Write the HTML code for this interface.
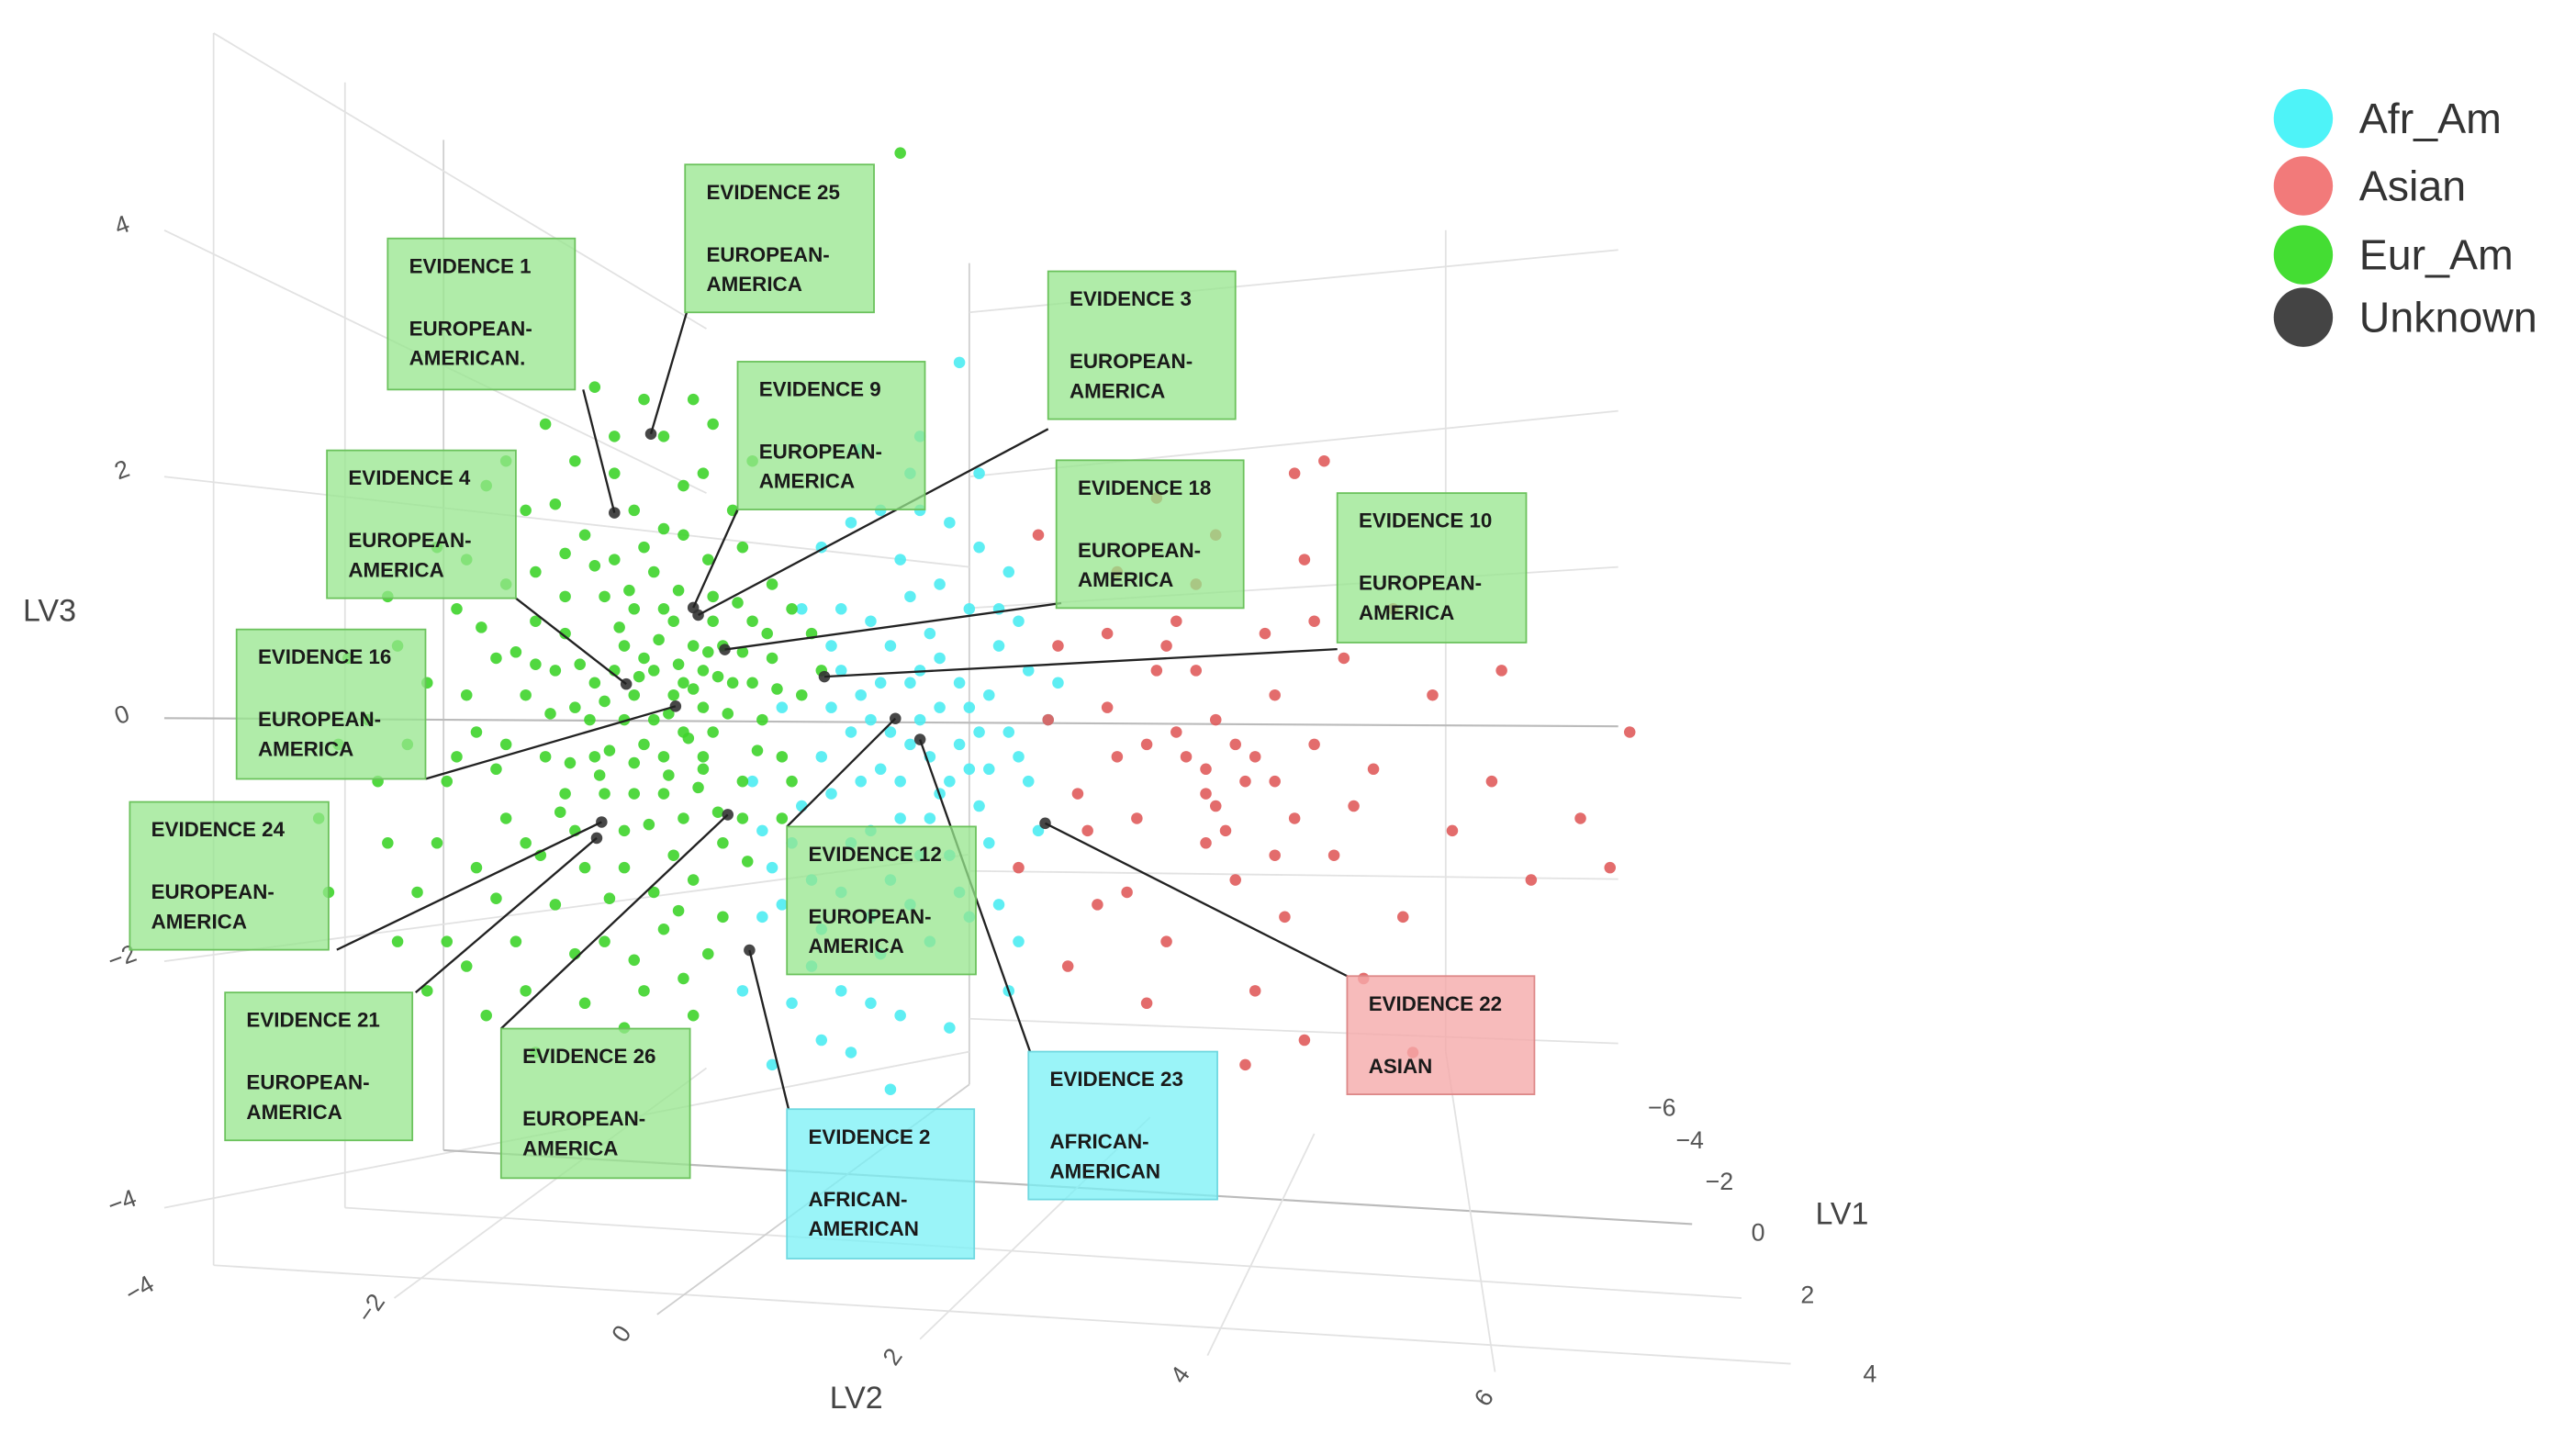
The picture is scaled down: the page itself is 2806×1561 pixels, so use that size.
<!DOCTYPE html>
<html><head><meta charset="utf-8">
<style>
html,body{margin:0;padding:0;background:#fff;}
svg{display:block;}
text{font-family:"Liberation Sans",sans-serif;}
.bt{font-size:12.5px;font-weight:bold;fill:#1a1a1a;}
.tk{font-size:15px;fill:#555;}
.gl{stroke:#e2e2e2;stroke-width:1;fill:none;}
</style></head>
<body>
<svg id="chart" width="2806" height="1561" viewBox="0 0 1568 872" xmlns="http://www.w3.org/2000/svg">
<g id="grid">
<line class="gl" x1="130" y1="20" x2="130" y2="770"/>
<line class="gl" x1="210" y1="50" x2="210" y2="735"/>
<line class="gl" x1="270" y1="85" x2="270" y2="700" style="stroke:#cfcfcf"/>
<line class="gl" x1="590" y1="160" x2="590" y2="660" style="stroke:#cfcfcf"/>
<line class="gl" x1="880" y1="140" x2="880" y2="640"/>
<line class="gl" x1="100" y1="140" x2="430" y2="300"/>
<line class="gl" x1="130" y1="20" x2="430" y2="200"/>
<line class="gl" x1="100" y1="290" x2="590" y2="345"/>
<line class="gl" x1="590" y1="190" x2="985" y2="152"/>
<line class="gl" x1="590" y1="290" x2="985" y2="250"/>
<line class="gl" x1="590" y1="370" x2="985" y2="345"/>
<line x1="100" y1="437" x2="985" y2="442" stroke="#bbb" stroke-width="1.2"/>
<line class="gl" x1="590" y1="530" x2="985" y2="535"/>
<line class="gl" x1="590" y1="620" x2="985" y2="635"/>
<line class="gl" x1="100" y1="585" x2="590" y2="520"/>
<line class="gl" x1="100" y1="735" x2="590" y2="640"/>
<line x1="270" y1="700" x2="1030" y2="745" stroke="#bbb" stroke-width="1.2"/>
<line class="gl" x1="130" y1="770" x2="1090" y2="830"/>
<line class="gl" x1="210" y1="735" x2="1060" y2="790"/>
<line class="gl" x1="400" y1="800" x2="590" y2="660" style="stroke:#cfcfcf"/>
<line class="gl" x1="560" y1="815" x2="700" y2="680"/>
<line class="gl" x1="735" y1="825" x2="800" y2="690"/>
<line class="gl" x1="910" y1="835" x2="880" y2="640"/>
<line class="gl" x1="240" y1="790" x2="430" y2="650"/>
</g>
<g id="ticks"></g>
<g id="points"></g>
<g id="leaders"></g>
<g id="boxes"></g>
<text x="14" y="378" font-size="19" fill="#444">LV3</text>
<text x="1105" y="745" font-size="19" fill="#444">LV1</text>
<text x="505" y="857" font-size="19" fill="#444">LV2</text>
<g id="legend"></g>
</svg>
<script>
const NS="http://www.w3.org/2000/svg";
const greenPts=[[-0.5,0.2],[-0.8,0.5],[-0.2,0.1],[-1.0,0.0],[-0.6,-0.3],[-0.3,0.6],[-1.3,0.3],[-0.9,-0.6],[0.1,0.3],[-0.4,-0.8],[-1.6,0.7],[-1.2,1.0],[-0.7,1.2],[-0.1,1.0],[0.3,0.8],[-2.0,0.2],[-1.8,-0.3],[-1.5,-0.9],[-1.0,-1.2],[-0.3,-1.3],[0.2,-0.5],[0.4,0.0],[-2.3,0.5],[-2.5,-0.1],[-2.2,-0.8],[-1.9,1.2],[-1.4,1.5],[-0.9,1.7],[-0.4,1.5],[0.2,1.4],[-2.7,0.9],[-3.0,0.3],[-2.8,-0.5],[-2.5,-1.2],[-1.7,-1.5],[-1.2,-1.8],[-0.6,-1.7],[0.0,-1.0],[-1.1,2.0],[-0.6,2.3],[-0.3,2.6],[-1.5,2.1],[-3.2,-0.2],[-3.4,-1.0],[-3.1,-1.4],[-2.9,1.4],[-2.0,1.7],[-2.4,1.9],[0.5,1.1],[0.6,-0.3],[-0.2,-0.3],[-0.7,0.0],[-1.1,0.4],[-0.5,0.8],[-0.9,0.9],[-1.3,-0.3],[-0.2,0.4],[-0.6,-0.6],[-1.5,0.1],[-0.1,-0.1],[0.0,0.6],[-0.8,-0.2],[-1.7,0.4],[-1.2,-0.6],[-0.4,-0.1],[-2.0,-1.0],[-2.6,0.2],[-3.6,0.0],[-3.8,0.5],[-2.1,-1.8],[-1.4,-2.3],[-0.8,-2.2],[-2.4,-2.4],[-1.9,-2.7],[-0.2,2.0],[0.3,2.1],[-1.8,2.4],[1.8,4.6],[-0.3,-2.4],[0.5,0.5],[0.8,0.2],[0.7,0.9],[1.0,0.4],[-4.1,-0.8],[-3.4,1.0],[-1.6,-0.6],[-1.0,-0.9],[-0.5,-1.1],[0.2,-0.8],[-2.8,-1.8],[-3.0,-2.2],[-1.1,1.3],[-1.6,1.0],[-2.2,1.1],[-0.4,0.3],[-0.9,0.2],[-0.1,0.8],[0.3,0.3],[-1.4,-1.2],[-0.7,-1.4],[-2.3,-0.4],[-1.9,0.8],
[-0.45,0.45],[-0.65,0.65],[-0.35,-0.15],[-0.85,0.35],[-1.05,0.75],[-0.15,0.55],[-0.55,-0.45],[-1.15,-0.25],[-0.75,-0.85],[-0.25,-0.55],[0.05,0.05],[-1.45,0.45],[-1.25,-0.45],[-0.95,1.05],[-0.45,1.05],[0.15,0.95],[-1.75,0.05],[-1.65,-0.75],[-0.05,-0.75],[0.35,-0.25],[-0.6,1.55],[-1.3,1.25],[-2.1,0.55],[-2.2,-0.2],[-1.85,-1.1],[-1.15,-1.45],[-0.45,-1.55],[0.25,-1.15],[0.55,0.25],[0.45,0.7],[-0.15,1.3],[-0.8,1.4],[-1.6,1.35],[-2.45,0.75],[-2.7,-0.3],[-2.3,-1.45],[-1.5,-1.9],[-0.9,-1.95],[-0.15,-1.9],[0.6,-0.8],[-0.55,0.05],[-0.9,-0.35],[-1.35,0.0],[-0.3,0.25],[-0.7,0.4],[-1.0,0.6],[-0.2,-0.4],[-1.55,-0.35],[-1.9,0.45],[-0.6,0.9],[-1.2,0.15],[-0.05,0.35],[0.2,0.55],[-2.6,1.3],[-3.3,0.6],[-3.5,-0.5],[-2.9,-1.0],[-1.1,2.3],[-0.4,1.9],[0.1,1.7],[-1.7,1.75],[-2.2,2.1],[-2.0,-2.2],[-1.0,-2.5],[-0.4,-2.1],[0.0,-1.6],[0.7,-0.5],[0.9,0.7],[-3.9,-0.2],[-4.0,-1.4],[-3.3,-1.8],[-2.6,-2.0],[-0.8,2.6],[-1.3,2.7],[-0.1,2.4]];
const cyanPts=[[2.0,0.0],[1.6,0.3],[2.4,-0.2],[1.8,-0.5],[2.2,0.5],[1.3,-0.1],[2.7,0.2],[1.5,-0.9],[2.0,-1.1],[2.6,-0.7],[1.1,0.6],[1.9,1.0],[2.5,0.9],[3.0,-0.3],[3.1,0.4],[1.2,-1.4],[0.7,-1.0],[0.4,-1.6],[0.9,-2.0],[1.5,-2.3],[2.1,-1.8],[2.8,-1.5],[1.0,1.4],[1.6,1.7],[2.3,1.6],[2.9,1.2],[0.3,-0.5],[0.6,0.1],[1.4,2.2],[2.0,2.3],[2.4,2.9],[1.0,-2.6],[0.5,-2.8],[1.7,-3.0],[1.3,-2.7],[3.2,-0.9],[2.9,-2.2],[0.2,-2.2],[1.7,0.6],[2.2,0.1],[1.9,-0.2],[2.5,-0.4],[1.4,0.2],[2.8,0.6],[1.1,-0.6],[2.3,-1.1],[1.8,1.3],[0.8,0.9],[3.3,0.0],[2.6,1.4],[0.9,-1.3],[1.5,-1.6],[2.1,-0.8],[1.2,0.9],[2.7,-1.0],[1.6,-0.4],[2.9,-0.1],[0.5,-1.2],[1.9,2.0],[3.0,-1.8],
[2.1,-0.3],[1.9,0.3],[2.3,-0.5],[2.5,0.1],[1.7,-0.1],[2.0,0.4],[2.2,-0.6],[1.8,-0.8],[2.4,0.3],[2.6,-0.1],[1.5,0.0],[1.4,-0.5],[2.7,-0.4],[2.1,0.7],[1.7,-1.3],[2.4,-1.4],[1.3,-1.0],[1.0,-0.3],[0.8,-0.7],[1.2,0.4],[1.5,0.8],[2.2,1.1],[2.8,0.9],[3.1,-0.5],[3.4,0.3],[1.9,-1.5],[1.6,-1.9],[2.5,-1.6],[1.0,-1.7],[0.6,-1.5],[2.0,1.7],[1.3,1.6],[2.6,2.0],[1.8,-2.4],[1.2,-2.2],[0.7,-2.3],[3.0,0.8],[2.3,-2.5],[0.4,-0.9],[1.1,0.1]];
const redPts=[[4.7,-0.3],[5.0,0.0],[4.4,0.4],[5.3,-0.5],[4.2,-0.8],[4.9,-1.0],[5.6,0.2],[3.9,0.1],[4.6,0.8],[5.8,-0.8],[4.1,-1.4],[5.2,-1.3],[6.0,-0.2],[3.6,-0.6],[4.8,1.1],[5.5,0.7],[6.3,0.5],[6.6,-0.4],[6.2,-1.1],[5.7,-1.6],[4.5,-1.8],[3.8,-1.5],[3.4,0.6],[4.0,1.2],[5.0,1.5],[5.9,1.3],[6.8,0.9],[7.2,0.2],[7.4,-0.9],[6.9,-1.6],[6.5,-2.1],[5.4,-2.2],[4.3,-2.3],[3.5,-2.0],[3.0,-1.2],[3.2,1.5],[4.4,1.8],[5.8,2.0],[6.1,2.1],[7.9,0.4],[8.7,-0.8],[9.2,-0.1],[9.0,-1.2],[5.9,-2.6],[5.3,-2.8],[7.0,-2.7],[4.9,-0.6],[5.1,-0.9],[4.6,-0.1],[5.4,-0.3],[4.8,0.4],[4.3,-0.2],[5.6,-1.1],[6.4,-0.7],[3.7,-0.9],[4.0,-0.3],[3.3,0.0],[7.8,-0.5],[8.2,-1.3],[6.0,0.8],[4.9,-0.4],[5.0,-0.7],[5.2,-0.2],[4.5,0.6],[3.9,0.7],[5.6,-0.5]];
const unknownNames=["1","25","9","3","4","18","10","16","24","12","21","26","2","23","22"];
const unknownPts=[[-1.1,1.68],[-0.73,2.32],[-0.3,0.91],[-0.25,0.85],[-0.98,0.29],[0.02,0.57],[1.03,0.35],[-0.48,0.11],[-1.23,-0.83],[1.75,0.01],[-1.28,-0.96],[0.05,-0.77],[0.27,-1.87],[2.0,-0.16],[3.27,-0.84]];
const unknownClass=["EUROPEAN-|AMERICAN.","EUROPEAN-|AMERICA","EUROPEAN-|AMERICA","EUROPEAN-|AMERICA","EUROPEAN-|AMERICA","EUROPEAN-|AMERICA","EUROPEAN-|AMERICA","EUROPEAN-|AMERICA","EUROPEAN-|AMERICA","EUROPEAN-|AMERICA","EUROPEAN-|AMERICA","EUROPEAN-|AMERICA","AFRICAN-|AMERICAN","AFRICAN-|AMERICAN","ASIAN"];
const lv3Ticks=["4","2","0","−2","−4"];
const lv3TickVals=[4,2,0,-2,-4];
const boxLayout={"1":[236,145,114,92,355,237],"25":[417,100,115,90,418,190],"9":[449,220,114,90,449,310],"3":[638,165,114,90,638,261],"4":[199,274,115,90,314,364],"18":[643,280,114,90,646,367],"10":[814,300,115,91,814,395],"16":[144,383,115,91,259,474],"24":[79,488,121,90,205,578],"12":[479,503,115,90,479,503],"21":[137,604,114,90,253,604],"26":[305,626,115,91,305,626],"2":[479,675,114,91,480,675],"23":[626,640,115,90,627,640],"22":[820,594,114,72,820,594]};
function sx(lv2){return 440+60*lv2;}
function sy(lv3){return 438-75*lv3;}
const P=document.getElementById('points');
function dots(arr,col,name){arr.forEach(d=>{const c=document.createElementNS(NS,'circle');
c.setAttribute('cx',sx(d[0]));c.setAttribute('cy',sy(d[1]));c.setAttribute('r',3.5);c.setAttribute('fill',col);c.setAttribute('fill-opacity','0.9');


P.appendChild(c);});}
dots(cyanPts,'#4cecf2','afr-am-point');
dots(redPts,'#e05c5c','asian-point');
dots(greenPts,'#3ed42b','eur-am-point');
dots(unknownPts,'#333','unknown-point');
const T=document.getElementById('ticks');
function txt(g,x,y,s,cls,rot,name){const t=document.createElementNS(NS,'text');t.setAttribute('x',x);t.setAttribute('y',y);t.setAttribute('class',cls);if(rot)t.setAttribute('transform',`rotate(${rot} ${x} ${y})`);t.textContent=s;


g.appendChild(t);return t;}
lv3Ticks.forEach((s,i)=>{txt(T,s.length>1?68:72,sy(lv3TickVals[i])+5-(i*1),s,'tk',-20,'lv3-tick');});
txt(T,80,793,'−4','tk',-30,'lv3-tick');
const lv2T=[["−4",85,793],["−2",225,806],["0",380,818],["2",545,832],["4",720,843],["6",905,857]];
lv2T.slice(1).forEach(a=>txt(T,a[1],a[2],a[0],'tk',-55,'lv2-tick'));
const lv1T=[["−6",1003,679],["−4",1020,699],["−2",1038,724],["0",1066,755],["2",1096,793],["4",1134,841]];
lv1T.forEach(a=>txt(T,a[1],a[2],a[0],'tk',0,'lv1-tick'));
const L=document.getElementById('leaders'),B=document.getElementById('boxes');
unknownNames.forEach((n,i)=>{const b=boxLayout[n];const p=unknownPts[i];
const ln=document.createElementNS(NS,'line');ln.setAttribute('x1',b[4]);ln.setAttribute('y1',b[5]);ln.setAttribute('x2',sx(p[0]));ln.setAttribute('y2',sy(p[1]));ln.setAttribute('stroke','#222');ln.setAttribute('stroke-width','1.3');


L.appendChild(ln);
const cls=unknownClass[i];const isA=cls.startsWith('AFRICAN'),isS=cls==='ASIAN';
const g=document.createElementNS(NS,'g');


const r=document.createElementNS(NS,'rect');r.setAttribute('x',b[0]);r.setAttribute('y',b[1]);r.setAttribute('width',b[2]);r.setAttribute('height',b[3]);
r.setAttribute('fill',isA?'rgba(120,240,245,0.75)':isS?'rgba(245,170,170,0.8)':'rgba(150,230,140,0.75)');
r.setAttribute('stroke',isA?'#6fd8e0':isS?'#d88':'#6bc25c');r.setAttribute('stroke-width','1');g.appendChild(r);
txt(g,b[0]+13,b[1]+21,'EVIDENCE '+n,'bt',0,'evidence-title');
cls.split('|').forEach((s,k)=>txt(g,b[0]+13,b[1]+59+k*18,s,'bt',0,'evidence-class'));
B.appendChild(g);});
const legendLabels=["Afr_Am","Asian","Eur_Am","Unknown"];
const legendColors=["#4ef3f8","#f27a7a","#44dd33","#444"];
const LG=document.getElementById('legend');
legendLabels.forEach((s,i)=>{const y=[72,113,155,193][i];
const g=document.createElementNS(NS,'g');


const c=document.createElementNS(NS,'circle');c.setAttribute('cx',1402);c.setAttribute('cy',y);c.setAttribute('r',18);c.setAttribute('fill',legendColors[i]);g.appendChild(c);
const t=txt(g,1436,y+9,s,'tk',0,'legend-label');t.setAttribute('style','font-size:26px;fill:#333');
LG.appendChild(g);});
</script>
</body></html>
